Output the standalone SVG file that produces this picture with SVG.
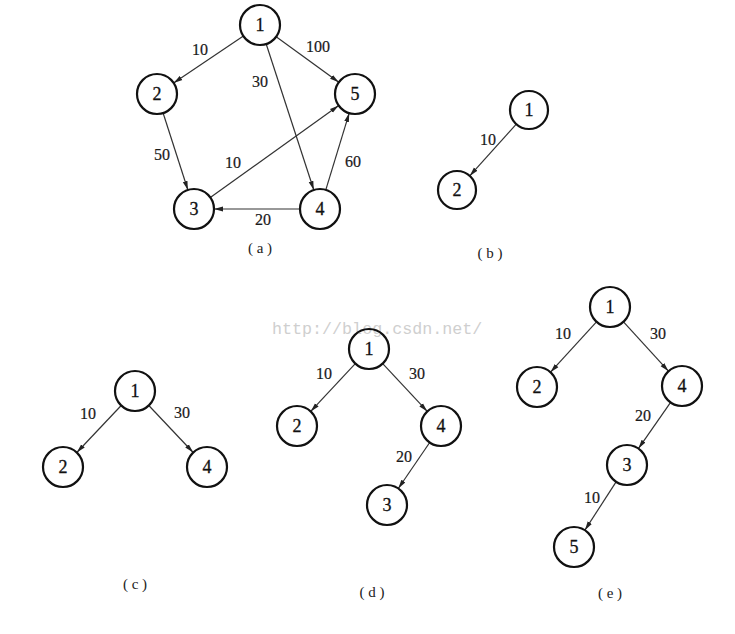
<svg xmlns="http://www.w3.org/2000/svg" width="735" height="634" viewBox="0 0 735 634">
<defs>
<marker id="arr" markerUnits="userSpaceOnUse" markerWidth="10" markerHeight="6" refX="9" refY="3" orient="auto" viewBox="0 0 10 6">
<path d="M0,0.6 L9,3 L0,5.4 z" fill="#222"/>
</marker>
</defs>
<style>
.n circle{fill:none;stroke:#111;stroke-width:2.2}
.n text{font-family:"Liberation Serif","Times New Roman",serif;font-size:18px;fill:#111;stroke:#111;stroke-width:0.3;text-anchor:middle}
.e line{stroke:#333;stroke-width:1.2;marker-end:url(#arr)}
.lb{font-family:"Liberation Serif","Times New Roman",serif;font-size:16px;fill:#1a1a1a;stroke:#1a1a1a;stroke-width:0.2;text-anchor:middle}
.cap{font-family:"Liberation Serif","Times New Roman",serif;font-size:15px;fill:#222;text-anchor:middle}
.wm{font-family:"Liberation Mono","Courier New",monospace;font-size:16.7px;fill:#cfcfcf}
</style>
<rect x="0" y="0" width="735" height="634" fill="#fff"/>
<text class="wm" x="272" y="334">http://blog.csdn.net/</text>

<g id="connectors" class="e">
<!-- (a) -->
<line x1="243.4" y1="36.1" x2="173.6" y2="82.9"/>
<line x1="276.2" y1="36.8" x2="338.8" y2="82.2"/>
<line x1="266.2" y1="44.0" x2="313.8" y2="190.0"/>
<line x1="163.1" y1="113.0" x2="187.9" y2="190.0"/>
<line x1="210.3" y1="197.4" x2="338.7" y2="105.6"/>
<line x1="325.8" y1="189.9" x2="349.2" y2="113.1"/>
<line x1="300" y1="209" x2="214" y2="209"/>
<!-- (b) -->
<line x1="516.3" y1="124.1" x2="469.7" y2="175.9"/>
<!-- (c) -->
<line x1="121.2" y1="405.5" x2="76.8" y2="452.5"/>
<line x1="148.8" y1="405.5" x2="193.2" y2="452.5"/>
<!-- (d) -->
<line x1="355.3" y1="363.6" x2="310.7" y2="411.4"/>
<line x1="382.7" y1="363.6" x2="427.3" y2="411.4"/>
<line x1="429.7" y1="442.5" x2="398.3" y2="488.5"/>
<!-- (e) -->
<line x1="596.5" y1="321.8" x2="550.5" y2="372.2"/>
<line x1="623.5" y1="321.8" x2="668.5" y2="371.2"/>
<line x1="670.6" y1="402.4" x2="638.4" y2="448.6"/>
<line x1="616.1" y1="481.8" x2="584.9" y2="530.2"/>
</g>

<g id="edge-labels">
<text class="lb" x="200" y="55">10</text>
<text class="lb" x="318" y="52">100</text>
<text class="lb" x="260" y="87">30</text>
<text class="lb" x="162" y="160">50</text>
<text class="lb" x="233" y="168">10</text>
<text class="lb" x="353" y="167">60</text>
<text class="lb" x="263" y="225">20</text>
<text class="lb" x="488" y="145">10</text>
<text class="lb" x="88" y="419">10</text>
<text class="lb" x="182" y="418">30</text>
<text class="lb" x="324" y="379">10</text>
<text class="lb" x="417" y="379">30</text>
<text class="lb" x="404" y="462">20</text>
<text class="lb" x="563" y="339">10</text>
<text class="lb" x="658" y="339">30</text>
<text class="lb" x="643" y="421">20</text>
<text class="lb" x="592" y="503">10</text>
</g>

<g id="a-1" class="n"><circle cx="260" cy="25" r="20"/><text x="260" y="31">1</text></g>
<g id="a-2" class="n"><circle cx="157" cy="94" r="20"/><text x="157" y="100">2</text></g>
<g id="a-5" class="n"><circle cx="355" cy="94" r="20"/><text x="355" y="100">5</text></g>
<g id="a-3" class="n"><circle cx="194" cy="209" r="20"/><text x="194" y="215">3</text></g>
<g id="a-4" class="n"><circle cx="320" cy="209" r="20"/><text x="320" y="215">4</text></g>

<g id="b-1" class="n"><circle cx="529" cy="110" r="19"/><text x="529" y="116">1</text></g>
<g id="b-2" class="n"><circle cx="457" cy="190" r="19"/><text x="457" y="196">2</text></g>

<g id="c-1" class="n"><circle cx="135" cy="391" r="20"/><text x="135" y="397">1</text></g>
<g id="c-2" class="n"><circle cx="63" cy="467" r="20"/><text x="63" y="473">2</text></g>
<g id="c-4" class="n"><circle cx="207" cy="467" r="20"/><text x="207" y="473">4</text></g>

<g id="d-1" class="n"><circle cx="369" cy="349" r="20"/><text x="369" y="355">1</text></g>
<g id="d-2" class="n"><circle cx="297" cy="426" r="20"/><text x="297" y="432">2</text></g>
<g id="d-4" class="n"><circle cx="441" cy="426" r="20"/><text x="441" y="432">4</text></g>
<g id="d-3" class="n"><circle cx="387" cy="505" r="20"/><text x="387" y="511">3</text></g>

<g id="e-1" class="n"><circle cx="610" cy="307" r="20"/><text x="610" y="313">1</text></g>
<g id="e-2" class="n"><circle cx="537" cy="387" r="20"/><text x="537" y="393">2</text></g>
<g id="e-4" class="n"><circle cx="682" cy="386" r="20"/><text x="682" y="392">4</text></g>
<g id="e-3" class="n"><circle cx="627" cy="465" r="20"/><text x="627" y="471">3</text></g>
<g id="e-5" class="n"><circle cx="574" cy="547" r="20"/><text x="574" y="553">5</text></g>

<g id="captions">
<text class="cap" x="260" y="253">( a )</text>
<text class="cap" x="490" y="258">( b )</text>
<text class="cap" x="135" y="589">( c )</text>
<text class="cap" x="372" y="597">( d )</text>
<text class="cap" x="610" y="598">( e )</text>
</g>
</svg>
